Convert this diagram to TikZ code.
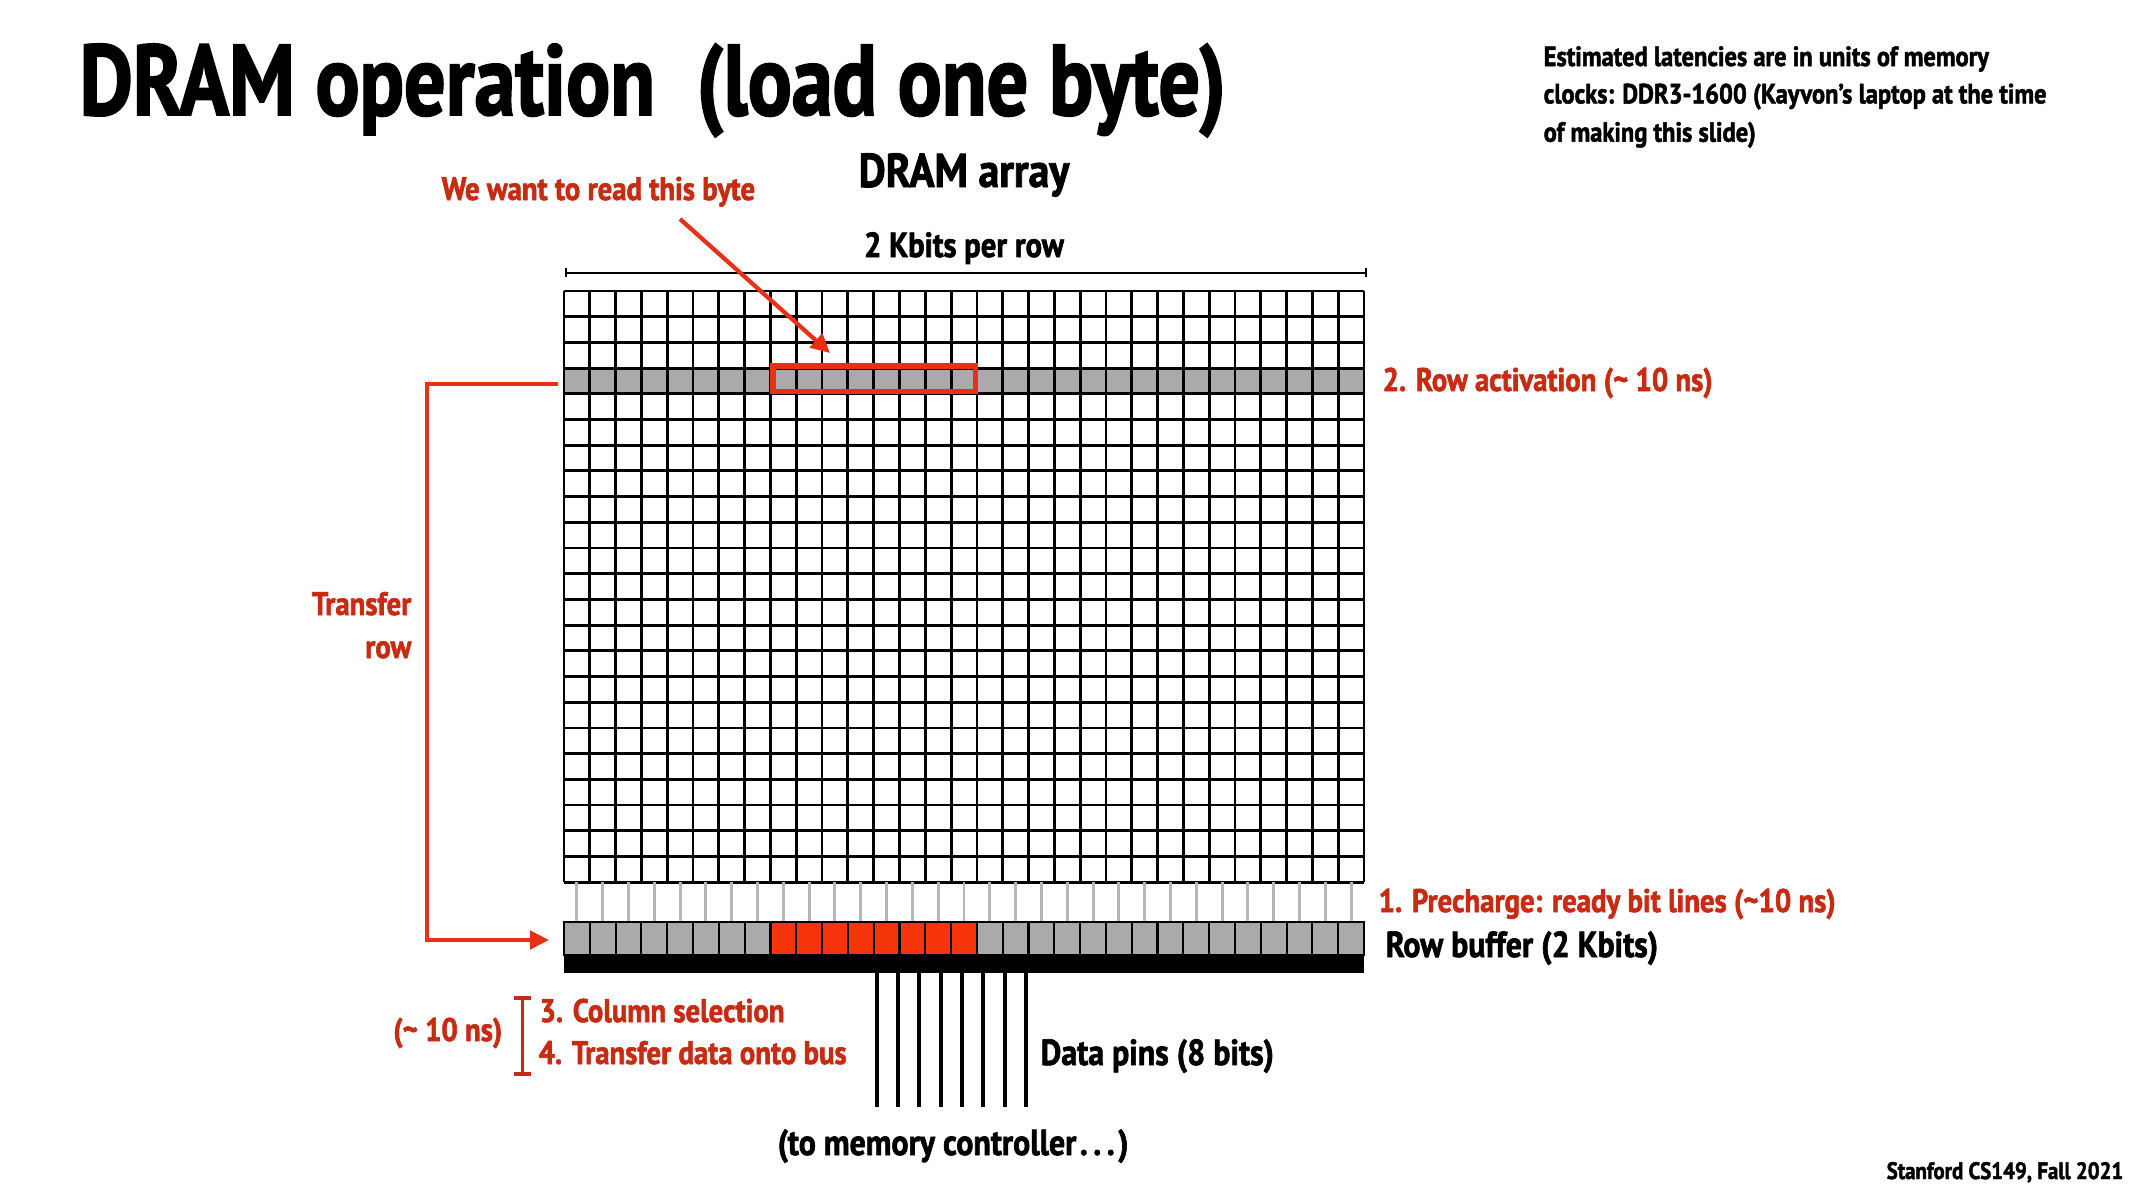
\documentclass[tikz,border=0pt]{standalone}
\usepackage{fontspec}
\setmainfont{PT Sans}[FakeStretch=0.88, BoldFeatures={FakeBold=1.8}]
\newfontfamily\titlefont{PT Sans}[FakeStretch=0.82, BoldFeatures={FakeBold=1.8}]
\usetikzlibrary{arrows.meta}
\definecolor{slidered}{RGB}{200,42,18}
\definecolor{boxred}{RGB}{232,48,20}
\definecolor{cellred}{RGB}{245,52,12}
\definecolor{cellgray}{RGB}{170,170,170}
\definecolor{bitgray}{RGB}{182,182,182}
\newcommand{\cellw}{25.806}
\newcommand{\cellh}{25.7}

\begin{document}
\begin{tikzpicture}[x=0.01cm, y=-0.01cm,
    txt/.style={inner sep=0pt, font=\bfseries\fontsize{#1}{#1}\selectfont},
    redtxt/.style={txt=#1, text=slidered},
    redline/.style={draw=boxred, line width=1.2pt},
    tip/.style={-{Triangle[length=5.4pt, width=5.2pt]}}]

\useasboundingbox (0,0) rectangle (2133,1200);

% titre
\node[inner sep=0pt, anchor=base west, font=\titlefont\bfseries\fontsize{28.5}{28.5}\selectfont] (title) at (79,115) {DRAM operation~~(load one byte)};
\node[txt=7.9, anchor=base west] (note-a) at (1543,66) {Estimated latencies are in units of memory};
\node[txt=7.9, anchor=base west] (note-b) at (1543,103.4) {clocks: DDR3-1600 (Kayvon's laptop at the time};
\node[txt=7.9, anchor=base west] (note-c) at (1543,141.7) {of making this slide)};
\node[txt=6.75, anchor=base east] (credit) at (2124,1179) {Stanford CS149, Fall 2021};

% en-tete du tableau
\node[txt=13.5, anchor=base] (array) at (964,187) {DRAM array};
\node[txt=9.9, anchor=base] (perrow) at (964,257) {2 Kbits per row};
\draw[{Bar[width=2.4pt]}-{Bar[width=2.4pt]}, line width=0.5pt] (565,272.7) -- (1367,272.7);
\node[redtxt=9.3, anchor=base west] (want) at (441,200) {We want to read this byte};

% tableau
\fill[cellgray] (564,291+3*\cellh) rectangle (1364,291+4*\cellh);
\foreach \i in {0,...,31}
    \draw[line width=0.8pt] (564+\i*\cellw,291) -- (564+\i*\cellw,882.1);
\foreach \j in {0,...,23}
    \draw[line width=0.8pt] (564,291+\j*\cellh) -- (1364,291+\j*\cellh);
\draw[boxred, line width=1.65pt] (773,366) rectangle (975.5,391.5);

% lignes de bit
\foreach \i in {0,...,30}
    \draw[bitgray, line width=0.85pt] (564+\i*\cellw+\cellw/2,882.1) -- (564+\i*\cellw+\cellw/2,922);

% tampon de ligne
\foreach \i in {0,...,30}
    \filldraw[fill=cellgray, line width=0.6pt] (564+\i*\cellw,922) rectangle ++(\cellw,33);
\foreach \i in {8,...,15}
    \filldraw[fill=cellred, line width=0.6pt] (564+\i*\cellw,922) rectangle ++(\cellw,33);
\fill (564,955) rectangle (1364,972.5);
\foreach \i in {0,...,7}
    \draw[line width=1.1pt] (876.7+\i*21.33,972) -- (876.7+\i*21.33,1107);

% fleches
\coordinate (want-tail) at (680,219);
\coordinate (want-head) at (830,353);
\draw[redline, tip] (want-tail) -- (want-head);
\coordinate (actrow) at (558,384);
\coordinate (bufin) at (549,940);
\draw[redline, tip] (actrow) -- ++(-131,0) |- (bufin);

% etiquettes
\node[redtxt=9.3, anchor=base east] (transfer-a) at (412,615) {Transfer};
\node[redtxt=9.3, anchor=base east] (transfer-b) at (412,658) {row};
\node[redtxt=9.3, anchor=base west] (activate) at (1382,391) {2. Row activation (\textasciitilde{} 10 ns)};
\node[redtxt=9.3, anchor=base west] (precharge) at (1378,912) {1. Precharge: ready bit lines (\textasciitilde10 ns)};
\node[txt=10.3, anchor=base west] (rowbuf) at (1385,957) {Row buffer (2 Kbits)};
\node[txt=10.3, anchor=base west] (pins) at (1040,1065) {Data pins (8 bits)};
\node[txt=10.3, anchor=base west] (tomc) at (777,1155) {(to memory controller\kern1pt.\kern1.6pt.\kern1.6pt.\kern1pt)};
\node[redtxt=9.3, anchor=base west] (colsel) at (539,1022) {3. Column selection};
\node[redtxt=9.3, anchor=base west] (onbus) at (538,1064) {4. Transfer data onto bus};
\node[redtxt=9.3, anchor=base east] (colns) at (503,1041) {(\textasciitilde{} 10 ns)};
\draw[slidered, line width=1pt, {Bar[width=5.1pt]}-{Bar[width=5.1pt]}] (522.5,996) -- (522.5,1076);

\end{tikzpicture}
\end{document}
